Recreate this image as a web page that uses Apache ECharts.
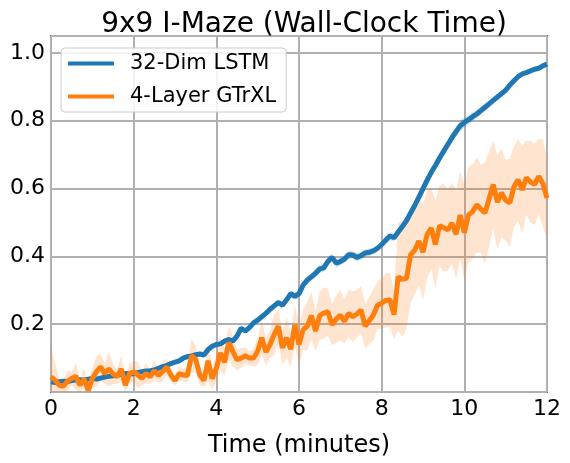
<!DOCTYPE html>
<html>
<head>
<meta charset="utf-8">
<script src="https://cdn.jsdelivr.net/npm/echarts@6/dist/echarts.min.js"></script>
<style>
  html, body { margin: 0; padding: 0; background: #fff; }
  #chart { width: 570px; height: 463px; }
</style>
</head>
<body>
<div id="chart"></div>
<script>
// sampled every 0.1 minute, 0 .. 12
const STEP = 0.1;

const lstmMean = [
  0.030, 0.028, 0.030, 0.032, 0.031, 0.034, 0.035, 0.036, 0.035, 0.038,
  0.040, 0.038, 0.041, 0.044, 0.046, 0.048, 0.050, 0.052, 0.055, 0.053,
  0.054, 0.057, 0.060, 0.062, 0.063, 0.065, 0.070, 0.075, 0.078, 0.084,
  0.088, 0.092, 0.100, 0.104, 0.106, 0.110, 0.112, 0.109, 0.125, 0.135,
  0.140, 0.142, 0.150, 0.155, 0.150, 0.165, 0.188, 0.180, 0.190, 0.204,
  0.212, 0.222, 0.232, 0.244, 0.254, 0.264, 0.256, 0.272, 0.290, 0.282,
  0.290, 0.315, 0.330, 0.340, 0.350, 0.363, 0.366, 0.385, 0.397, 0.380,
  0.385, 0.392, 0.405, 0.404, 0.397, 0.402, 0.410, 0.412, 0.416, 0.424,
  0.435, 0.448, 0.460, 0.455, 0.472, 0.488, 0.505, 0.528, 0.550, 0.575,
  0.600, 0.625, 0.648, 0.668, 0.690, 0.710, 0.730, 0.750, 0.768, 0.785,
  0.795, 0.803, 0.812, 0.820, 0.830, 0.840, 0.850, 0.860, 0.870, 0.880,
  0.890, 0.905, 0.918, 0.930, 0.938, 0.942, 0.947, 0.952, 0.955, 0.962,
  0.967
];
const lstmSpread = [
  0.006, 0.005, 0.006, 0.005, 0.006, 0.005, 0.006, 0.005, 0.006, 0.005,
  0.006, 0.005, 0.006, 0.006, 0.005, 0.006, 0.006, 0.005, 0.006, 0.006,
  0.006, 0.006, 0.005, 0.006, 0.006, 0.007, 0.006, 0.006, 0.007, 0.006,
  0.006, 0.007, 0.006, 0.007, 0.007, 0.006, 0.007, 0.007, 0.008, 0.007,
  0.008, 0.007, 0.008, 0.008, 0.007, 0.008, 0.009, 0.008, 0.008, 0.009,
  0.009, 0.008, 0.009, 0.010, 0.009, 0.010, 0.009, 0.010, 0.011, 0.010,
  0.010, 0.011, 0.010, 0.011, 0.012, 0.011, 0.012, 0.012, 0.011, 0.012,
  0.012, 0.011, 0.012, 0.011, 0.012, 0.011, 0.010, 0.011, 0.010, 0.010,
  0.010, 0.011, 0.012, 0.011, 0.012, 0.012, 0.013, 0.012, 0.013, 0.013,
  0.014, 0.014, 0.015, 0.014, 0.015, 0.016, 0.015, 0.016, 0.015, 0.016,
  0.015, 0.014, 0.013, 0.012, 0.012, 0.011, 0.010, 0.010, 0.009, 0.009,
  0.008, 0.008, 0.007, 0.007, 0.006, 0.006, 0.006, 0.005, 0.005, 0.005,
  0.005
];

const gtrxlMean = [
  0.045, 0.034, 0.020, 0.017, 0.032, 0.040, 0.046, 0.020, 0.039, 0.005,
  0.040, 0.060, 0.074, 0.054, 0.068, 0.053, 0.045, 0.068, 0.020, 0.054,
  0.060, 0.050, 0.040, 0.055, 0.045, 0.063, 0.049, 0.060, 0.074, 0.050,
  0.034, 0.054, 0.050, 0.049, 0.107, 0.097, 0.050, 0.034, 0.092, 0.039,
  0.070, 0.115, 0.088, 0.146, 0.120, 0.095, 0.100, 0.107, 0.100, 0.100,
  0.120, 0.160, 0.118, 0.140, 0.170, 0.194, 0.130, 0.160, 0.126, 0.198,
  0.140, 0.184, 0.194, 0.225, 0.180, 0.225, 0.233, 0.237, 0.198, 0.215,
  0.227, 0.208, 0.232, 0.222, 0.230, 0.242, 0.194, 0.210, 0.227, 0.256,
  0.262, 0.270, 0.272, 0.228, 0.340, 0.332, 0.335, 0.405, 0.418, 0.445,
  0.412, 0.465, 0.483, 0.435, 0.490, 0.485, 0.478, 0.498, 0.465, 0.522,
  0.470, 0.522, 0.532, 0.552, 0.540, 0.528, 0.570, 0.612, 0.560, 0.588,
  0.565, 0.558, 0.605, 0.626, 0.596, 0.632, 0.620, 0.612, 0.636, 0.615,
  0.572
];
const gtrxlSpread = [
  0.090, 0.050, 0.020, 0.020, 0.030, 0.020, 0.040, 0.020, 0.030, 0.020,
  0.030, 0.045, 0.040, 0.030, 0.050, 0.030, 0.020, 0.040, 0.020, 0.030,
  0.030, 0.040, 0.020, 0.030, 0.020, 0.030, 0.020, 0.030, 0.025, 0.020,
  0.015, 0.020, 0.020, 0.020, 0.050, 0.040, 0.030, 0.020, 0.060, 0.030,
  0.040, 0.050, 0.040, 0.050, 0.045, 0.030, 0.030, 0.025, 0.020, 0.025,
  0.040, 0.050, 0.040, 0.040, 0.060, 0.050, 0.050, 0.060, 0.050, 0.060,
  0.060, 0.060, 0.070, 0.070, 0.060, 0.070, 0.075, 0.070, 0.060, 0.070,
  0.075, 0.065, 0.070, 0.075, 0.070, 0.070, 0.065, 0.070, 0.075, 0.070,
  0.075, 0.080, 0.080, 0.070, 0.160, 0.170, 0.150, 0.140, 0.130, 0.130,
  0.140, 0.130, 0.120, 0.130, 0.120, 0.130, 0.120, 0.120, 0.130, 0.130,
  0.140, 0.140, 0.140, 0.140, 0.130, 0.150, 0.140, 0.130, 0.140, 0.130,
  0.120, 0.130, 0.120, 0.120, 0.130, 0.110, 0.120, 0.120, 0.110, 0.130,
  0.120
];

const xTicks = [0, 2, 4, 6, 8, 10, 12];
const yTicks = [0.2, 0.4, 0.6, 0.8, 1.0];

const FONT = 'DejaVu Sans';
const BLUE = '#1f77b4';
const ORANGE = '#ff7f0e';

function timeAt(i) {
  return +(i * STEP).toFixed(1);
}

function pairs(vals) {
  return vals.map((v, i) => [timeAt(i), v]);
}

// shaded band mean-spread .. mean+spread, drawn as one polygon through the axes
function bandSeries(mean, spread, fill) {
  return {
    type: 'custom', silent: true, clip: true,
    data: [0],
    renderItem: function (params, api) {
      const upper = mean.map((m, i) => api.coord([timeAt(i), m + spread[i]]));
      const lower = mean.map((m, i) => api.coord([timeAt(i), m - spread[i]])).reverse();
      return {
        type: 'polygon',
        shape: { points: upper.concat(lower) },
        style: { fill: fill }
      };
    }
  };
}

function lineSeries(name, mean, color) {
  return {
    name: name, type: 'line', symbol: 'none', data: pairs(mean),
    lineStyle: { color: color, width: 5 }, itemStyle: { color: color }
  };
}

const chart = echarts.init(document.getElementById('chart'));
chart.setOption({
  animation: false,
  title: {
    text: '9x9 I-Maze (Wall-Clock Time)',
    left: 299, top: 6, textAlign: 'center',
    textStyle: { fontFamily: FONT, fontSize: 28, fontWeight: 'normal', color: '#000' }
  },
  grid: {
    left: 51, right: 23, top: 36, bottom: 64,
    show: true, borderColor: '#000', borderWidth: 1.5, backgroundColor: 'transparent'
  },
  legend: {
    orient: 'vertical', left: 61, top: 48,
    padding: [5, 10, 5, 7], itemGap: 12,
    itemWidth: 46, itemHeight: 4,
    backgroundColor: 'rgba(255,255,255,0.85)', borderColor: '#cccccc', borderWidth: 1, borderRadius: 4,
    data: [
      { name: '32-Dim LSTM', icon: 'rect' },
      { name: '4-Layer GTrXL', icon: 'rect' }
    ],
    textStyle: { fontFamily: FONT, fontSize: 21, color: '#000', padding: [0, 0, 0, 11] }
  },
  xAxis: {
    type: 'value', min: 0, max: 12, interval: 2,
    name: 'Time (minutes)', nameLocation: 'middle', nameGap: 42,
    nameTextStyle: { fontFamily: FONT, fontSize: 24, color: '#000' },
    axisLine: { show: false }, axisTick: { show: false },
    axisLabel: {
      fontFamily: FONT, fontSize: 22, color: '#000', margin: 6,
      formatter: v => xTicks.includes(v) ? String(v) : ''
    },
    splitLine: { show: true, lineStyle: { color: '#b0b0b0', width: 2 } }
  },
  yAxis: {
    type: 'value', min: 0, max: 1.05, interval: 0.2,
    axisLine: { show: false }, axisTick: { show: false },
    axisLabel: {
      fontFamily: FONT, fontSize: 22, color: '#000', margin: 6,
      formatter: v => yTicks.some(t => Math.abs(t - v) < 1e-6) ? v.toFixed(1) : ''
    },
    splitLine: { show: true, lineStyle: { color: '#b0b0b0', width: 2 } }
  },
  series: [
    bandSeries(lstmMean, lstmSpread, 'rgba(31,119,180,0.2)'),
    lineSeries('32-Dim LSTM', lstmMean, BLUE),
    bandSeries(gtrxlMean, gtrxlSpread, 'rgba(255,127,14,0.2)'),
    lineSeries('4-Layer GTrXL', gtrxlMean, ORANGE)
  ]
});
</script>
</body>
</html>
